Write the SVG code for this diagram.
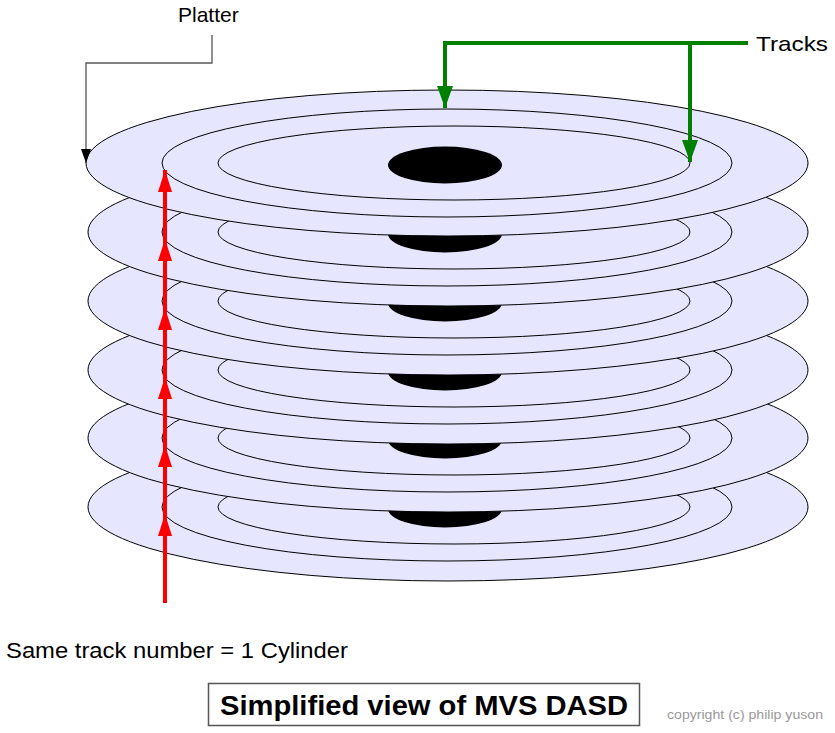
<svg xmlns="http://www.w3.org/2000/svg" xmlns:xlink="http://www.w3.org/1999/xlink" width="835" height="733" viewBox="0 0 835 733">
<style>
.d{fill:#e6e6ff;stroke:#000;stroke-width:1}
.t{fill:none;stroke:#000;stroke-width:1}
.txt{font-family:"Liberation Sans",Arial,sans-serif;fill:#000}
</style>
<defs>
<g id="platter">
<ellipse class="d" cx="448" cy="0" rx="360" ry="74"/>
<ellipse class="t" cx="447" cy="0" rx="285" ry="54"/>
<ellipse class="t" cx="454" cy="0" rx="236" ry="37"/>
<ellipse cx="445" cy="2" rx="57" ry="18.5" fill="#000"/>
</g>
<marker id="ar" viewBox="0 0 10 10" refX="10" refY="5" markerWidth="22" markerHeight="14" markerUnits="userSpaceOnUse" orient="auto" preserveAspectRatio="none"><path d="M0,0L10,5L0,10z" fill="#f00"/></marker>
<marker id="ag" viewBox="0 0 10 10" refX="10" refY="5" markerWidth="22" markerHeight="16" markerUnits="userSpaceOnUse" orient="auto" preserveAspectRatio="none"><path d="M0,0L10,5L0,10z" fill="#008000"/></marker>
<marker id="ab" viewBox="0 0 10 10" refX="10" refY="5" markerWidth="14" markerHeight="10" markerUnits="userSpaceOnUse" orient="auto" preserveAspectRatio="none"><path d="M0,0L10,5L0,10z" fill="#000"/></marker>
</defs>
<g id="platter6"><use xlink:href="#platter" y="507"/></g>
<g id="platter5"><use xlink:href="#platter" y="438"/></g>
<g id="platter4"><use xlink:href="#platter" y="370"/></g>
<g id="platter3"><use xlink:href="#platter" y="301"/></g>
<g id="platter2"><use xlink:href="#platter" y="232"/></g>
<g id="platter1">
<ellipse class="d" cx="447" cy="163" rx="361" ry="73"/>
<ellipse class="t" cx="447" cy="163" rx="285" ry="54"/>
<ellipse class="t" cx="454" cy="163" rx="236" ry="37"/>
<ellipse cx="445" cy="165" rx="57" ry="18.5" fill="#000"/>
</g>
<g id="connectors">
<path d="M212,35V63H86V163" fill="none" stroke="#555" stroke-width="1.3" marker-end="url(#ab)"/>
<path d="M748,43H445V108" fill="none" stroke="#008000" stroke-width="4" marker-end="url(#ag)"/>
<path d="M690,43V162" fill="none" stroke="#008000" stroke-width="4" marker-end="url(#ag)"/>
<g fill="none" stroke="#f00" stroke-width="4">
<path d="M165,603V514" marker-end="url(#ar)"/>
<path d="M165,514V445" marker-end="url(#ar)"/>
<path d="M165,445V377" marker-end="url(#ar)"/>
<path d="M165,377V308" marker-end="url(#ar)"/>
<path d="M165,308V239" marker-end="url(#ar)"/>
<path d="M165,239V170" marker-end="url(#ar)"/>
</g>
</g>
<g id="labels">
<text class="txt" x="178" y="22" font-size="21">Platter</text>
<text class="txt" x="756" y="51" font-size="21" textLength="72" lengthAdjust="spacingAndGlyphs">Tracks</text>
<text class="txt" x="6" y="658" font-size="22" textLength="342" lengthAdjust="spacingAndGlyphs">Same track number = 1 Cylinder</text>
</g>
<g id="title">
<rect x="208.5" y="683.5" width="431" height="42" fill="#fff" stroke="#555" stroke-width="1.5"/>
<text class="txt" x="424" y="715" font-size="28" font-weight="bold" text-anchor="middle" textLength="408" lengthAdjust="spacingAndGlyphs">Simplified view of MVS DASD</text>
<text class="txt" x="667" y="719" font-size="13" style="fill:#999" textLength="156" lengthAdjust="spacingAndGlyphs">copyright (c) philip yuson</text>
</g>
</svg>
